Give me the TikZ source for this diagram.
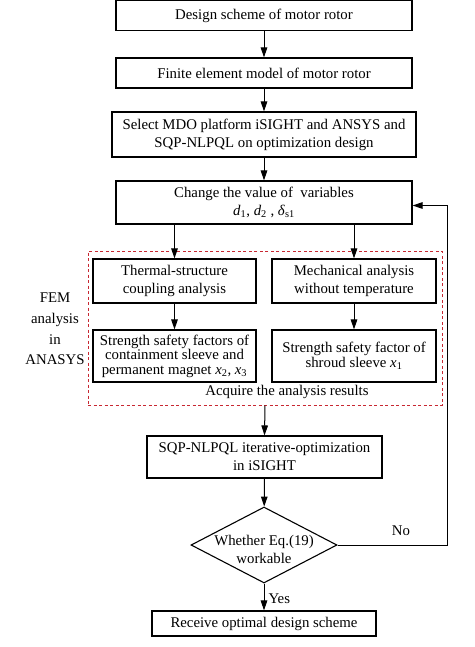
\documentclass[tikz,border=0pt]{standalone}
\usepackage{fontspec}
\setmainfont{Liberation Serif}
\usetikzlibrary{shapes.geometric,arrows.meta}
\definecolor{femred}{RGB}{200,40,50}
\begin{document}
\begin{tikzpicture}[x=1pt,y=1pt,
  box/.style={draw,line width=1.1pt,rectangle,align=center,inner sep=0pt,
    font=\fontsize{14.8}{18}\selectfont},
  tightbox/.style={box,font=\fontsize{14.8}{14.5}\selectfont},
  arr/.style={-{Triangle[length=10pt,width=6.5pt]},line width=1pt},
  lbl/.style={font=\fontsize{14.8}{18}\selectfont,inner sep=0pt},
  femframe/.style={draw=femred,dashed,dash pattern=on 3pt off 2.5pt,line width=1pt,rectangle,inner sep=0pt}
]
\useasboundingbox (0,0) rectangle (474,-647);

\node[box,minimum width=296pt,minimum height=30pt] (b1) at (264,-15.7) {Design scheme of motor rotor};
\node[box,minimum width=296pt,minimum height=30pt] (b2) at (264,-73) {Finite element model of motor rotor};
\node[box,minimum width=304pt,minimum height=45pt] (b3) at (264,-134.5) {Select MDO platform iSIGHT and ANSYS and\\SQP-NLPQL on optimization design};
\node[box,minimum width=296pt,minimum height=43pt] (b4) at (264,-202.5) {Change the value of~ variables\\\textit{d}\textsubscript{1}, \textit{d}\textsubscript{2} , \textit{δ}\textsubscript{s1}};

\node[femframe,minimum width=354pt,minimum height=154pt] (fem) at (265,-328) {};
\node[box,minimum width=163pt,minimum height=44pt] (th) at (174.5,-281) {Thermal-structure\\coupling analysis};
\node[box,minimum width=164pt,minimum height=44pt] (me) at (354,-281) {Mechanical analysis\\without temperature};
\node[tightbox,minimum width=163pt,minimum height=52pt] (sl) at (174.5,-356) {Strength safety factors of\\containment sleeve and\\permanent magnet \textit{x}\textsubscript{2}, \textit{x}\textsubscript{3}};
\node[tightbox,minimum width=164pt,minimum height=52pt] (sr) at (354,-356) {Strength safety factor of\\shroud sleeve \textit{x}\textsubscript{1}};
\node[lbl] (acq) at (287,-392) {Acquire the analysis results};
\node[lbl,align=center,font=\fontsize{14.8}{20.7}\selectfont] (femlbl) at (55,-329) {FEM\\analysis\\in\\ANASYS};

\node[box,minimum width=235pt,minimum height=42pt] (sqp) at (264.5,-457) {SQP-NLPQL iterative-optimization\\in iSIGHT};
\node[draw,line width=1.1pt,diamond,minimum width=146pt,minimum height=76pt,inner sep=0pt] (dia) at (264,-545) {};
\node[lbl,align=center] (diat) at (264,-549) {Whether Eq.(19)\\workable};
\node[box,minimum width=224pt,minimum height=25pt] (rec) at (264,-623.5) {Receive optimal design scheme};

\coordinate (fb) at (447,-545);

\draw[arr] (b1) -- (b2);
\draw[arr] (b2) -- (b3);
\draw[arr] (b3) -- (b4);
\draw[arr] (b4.south -| th.north) -- (th.north);
\draw[arr] (b4.south -| me.north) -- (me.north);
\draw[arr] (th) -- (sl);
\draw[arr] (me) -- (sr);
\draw[arr] (fem.south) -- (sqp.north);
\draw[arr] (sqp) -- (dia);
\draw[arr] (dia.south) -- node[lbl,right=4pt,yshift=-2pt]{Yes} (rec.north);
\draw[arr] (dia.east) -- (fb) |- ([yshift=-3pt]b4.east);
\node[lbl] (no) at (401,-531) {No};
\end{tikzpicture}
\end{document}
